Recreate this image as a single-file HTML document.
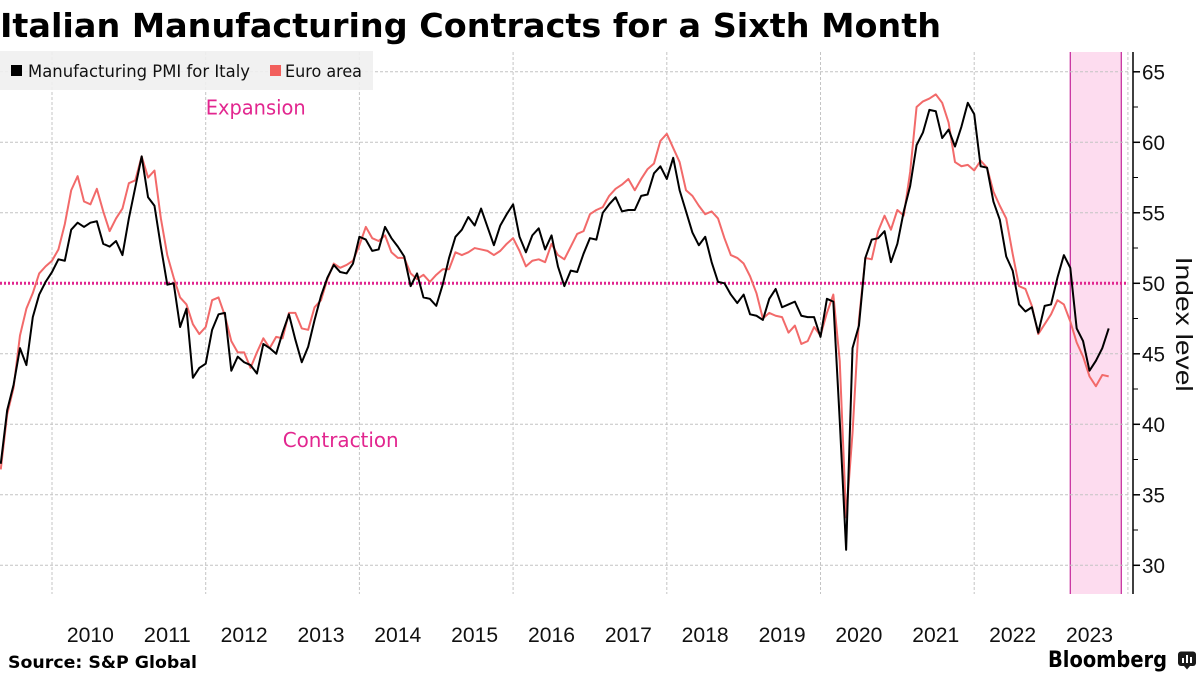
<!DOCTYPE html>
<html>
<head>
<meta charset="utf-8">
<style>
  html,body{margin:0;padding:0;background:#fff;}
  svg{display:block;}
</style>
</head>
<body>
<svg width="1200" height="675" viewBox="0 0 1200 675" xmlns="http://www.w3.org/2000/svg">
  <rect x="0" y="0" width="1200" height="675" fill="#ffffff"/>

  <!-- Title -->
  <text x="0" y="37" font-family="DejaVu Sans, Liberation Sans, sans-serif" font-weight="bold" font-size="33" textLength="941" lengthAdjust="spacingAndGlyphs" fill="#000">Italian Manufacturing Contracts for a Sixth Month</text>

  <!-- Shaded recent region -->
  <rect x="1070.3" y="52" width="51" height="542" fill="#fddcef"/>
  <line x1="1070.3" y1="52" x2="1070.3" y2="594" stroke="#c8329f" stroke-width="1.3"/>
  <line x1="1121.3" y1="52" x2="1121.3" y2="594" stroke="#c8329f" stroke-width="1.3"/>

  <!-- Horizontal gridlines -->
  <g stroke="#c4c4c4" stroke-width="1" stroke-dasharray="3 2">
    <line x1="0" y1="71.8" x2="1128" y2="71.8"/>
    <line x1="0" y1="142.3" x2="1128" y2="142.3"/>
    <line x1="0" y1="212.8" x2="1128" y2="212.8"/>
    <line x1="0" y1="353.8" x2="1128" y2="353.8"/>
    <line x1="0" y1="424.3" x2="1128" y2="424.3"/>
    <line x1="0" y1="494.8" x2="1128" y2="494.8"/>
    <line x1="0" y1="565.3" x2="1128" y2="565.3"/>
  </g>
  <!-- Vertical gridlines -->
  <g stroke="#c4c4c4" stroke-width="1" stroke-dasharray="3 2">
    <line x1="52" y1="52" x2="52" y2="594"/>
    <line x1="205.7" y1="52" x2="205.7" y2="594"/>
    <line x1="359.4" y1="52" x2="359.4" y2="594"/>
    <line x1="513.1" y1="52" x2="513.1" y2="594"/>
    <line x1="666.8" y1="52" x2="666.8" y2="594"/>
    <line x1="820.5" y1="52" x2="820.5" y2="594"/>
    <line x1="974.2" y1="52" x2="974.2" y2="594"/>
    <line x1="1127.9" y1="52" x2="1127.9" y2="594"/>
  </g>

  <!-- 50 line dotted -->
  <line x1="0" y1="283.3" x2="1128" y2="283.3" stroke="#e0268f" stroke-width="3" stroke-dasharray="2 2"/>

  <!-- Legend -->
  <rect x="0" y="51" width="373" height="39" fill="#efefef" fill-opacity="0.9"/>
  <rect x="11" y="65" width="11" height="11" fill="#000"/>
  <text x="28" y="77" font-family="DejaVu Sans, Liberation Sans, sans-serif" font-size="16.5" textLength="222" lengthAdjust="spacingAndGlyphs" fill="#111">Manufacturing PMI for Italy</text>
  <rect x="270" y="65" width="11" height="11" fill="#f25f5c"/>
  <text x="285" y="77" font-family="DejaVu Sans, Liberation Sans, sans-serif" font-size="16.5" textLength="77" lengthAdjust="spacingAndGlyphs" fill="#111">Euro area</text>

  <!-- Annotations -->
  <text x="205.7" y="114.3" font-family="DejaVu Sans, Liberation Sans, sans-serif" font-size="20" textLength="100" lengthAdjust="spacingAndGlyphs" fill="#e2268f">Expansion</text>
  <text x="282.7" y="447" font-family="DejaVu Sans, Liberation Sans, sans-serif" font-size="20" textLength="116" lengthAdjust="spacingAndGlyphs" fill="#e2268f">Contraction</text>

  <!-- Series: x = 0.77 + i*6.4042, y = 988.3 - 14.1*v -->
  <g transform="matrix(6.4042 0 0 -14.1 0.77 988.3)">
    <polyline fill="none" stroke="#f26a6a" stroke-width="2" stroke-linejoin="round" vector-effect="non-scaling-stroke" points="
0,36.8 1,40.7 2,42.6 3,46.3 4,48.2 5,49.3 6,50.7 7,51.2 8,51.6
9,52.4 10,54.2 11,56.6 12,57.6 13,55.8 14,55.6 15,56.7 16,55.1 17,53.7 18,54.6 19,55.3 20,57.1
21,57.3 22,59.0 23,57.5 24,58.0 25,54.6 26,52.0 27,50.4 28,49.0 29,48.5 30,47.1 31,46.4 32,46.9
33,48.8 34,49.0 35,47.7 36,45.9 37,45.1 38,45.1 39,44.0 40,45.1 41,46.1 42,45.4 43,46.2 44,46.1
45,47.9 46,47.9 47,46.8 48,46.7 49,48.3 50,48.8 51,50.3 52,51.4 53,51.1 54,51.3 55,51.6 56,52.7
57,54.0 58,53.2 59,53.0 60,53.4 61,52.2 62,51.8 63,51.8 64,50.7 65,50.3 66,50.6 67,50.1 68,50.6
69,51.0 70,51.0 71,52.2 72,52.0 73,52.2 74,52.5 75,52.4 76,52.3 77,52.0 78,52.3 79,52.8 80,53.2
81,52.3 82,51.2 83,51.6 84,51.7 85,51.5 86,52.8 87,52.0 88,51.7 89,52.6 90,53.5 91,53.7 92,54.9
93,55.2 94,55.4 95,56.2 96,56.7 97,57.0 98,57.4 99,56.6 100,57.4 101,58.1 102,58.5 103,60.1 104,60.6
105,59.6 106,58.6 107,56.6 108,56.2 109,55.5 110,54.9 111,55.1 112,54.6 113,53.2 114,52.0 115,51.8 116,51.4
117,50.5 118,49.3 119,47.5 120,47.9 121,47.7 122,47.6 123,46.5 124,47.0 125,45.7 126,45.9 127,46.9 128,46.3
129,47.9 130,49.2 131,44.5 132,33.4 133,39.4 134,47.4 135,51.8 136,51.7 137,53.7 138,54.8 139,53.8 140,55.2
141,54.8 142,57.9 143,62.5 144,62.9 145,63.1 146,63.4 147,62.8 148,61.4 149,58.6 150,58.3 151,58.4 152,58.0
153,58.7 154,58.2 155,56.5 156,55.5 157,54.6 158,52.1 159,49.8 160,49.6 161,48.4 162,46.4 163,47.1 164,47.8
165,48.8 166,48.5 167,47.3 168,45.8 169,44.8 170,43.4 171,42.7 172,43.5 173,43.4"/>
    <polyline fill="none" stroke="#000000" stroke-width="2" stroke-linejoin="round" vector-effect="non-scaling-stroke" points="
0,37.2 1,41.0 2,42.8 3,45.4 4,44.2 5,47.6 6,49.2 7,50.1 8,50.8
9,51.7 10,51.6 11,53.8 12,54.3 13,54.0 14,54.3 15,54.4 16,52.8 17,52.6 18,53.0 19,52.0 20,54.6
21,56.8 22,59.0 23,56.1 24,55.5 25,52.6 26,49.9 27,50.0 28,46.9 29,48.2 30,43.3 31,44.0 32,44.3
33,46.7 34,47.8 35,47.9 36,43.8 37,44.8 38,44.4 39,44.2 40,43.6 41,45.7 42,45.4 43,45.0 44,46.5
45,47.8 46,46.0 47,44.4 48,45.5 49,47.4 50,49.1 51,50.4 52,51.3 53,50.8 54,50.7 55,51.4 56,53.3
57,53.1 58,52.3 59,52.4 60,54.0 61,53.2 62,52.6 63,51.9 64,49.8 65,50.7 66,49.0 67,48.9 68,48.4
69,49.9 70,51.8 71,53.3 72,53.8 73,54.7 74,54.1 75,55.3 76,54.0 77,52.7 78,54.1 79,54.9 80,55.6
81,53.3 82,52.2 83,53.4 84,53.9 85,52.4 86,53.4 87,51.2 88,49.8 89,50.9 90,50.8 91,52.1 92,53.2
93,53.1 94,55.0 95,55.6 96,56.1 97,55.1 98,55.2 99,55.2 100,56.2 101,56.3 102,57.8 103,58.3 104,57.4
105,58.9 106,56.6 107,55.1 108,53.6 109,52.7 110,53.3 111,51.5 112,50.1 113,50.0 114,49.2 115,48.6 116,49.2
117,47.8 118,47.7 119,47.4 120,48.9 121,49.6 122,48.3 123,48.5 124,48.7 125,47.7 126,47.6 127,47.6 128,46.2
129,48.9 130,48.7 131,40.3 132,31.1 133,45.4 134,47.0 135,51.8 136,53.1 137,53.2 138,53.7 139,51.5 140,52.8
141,55.1 142,56.9 143,59.8 144,60.7 145,62.3 146,62.2 147,60.3 148,60.9 149,59.7 150,61.1 151,62.8 152,62.0
153,58.3 154,58.2 155,55.8 156,54.5 157,51.9 158,50.9 159,48.5 160,48.0 161,48.3 162,46.5 163,48.4 164,48.5
165,50.4 166,52.0 167,51.1 168,46.8 169,45.9 170,43.8 171,44.5 172,45.4 173,46.8"/>
  </g>

  <!-- Y axis -->
  <line x1="1133" y1="52" x2="1133" y2="594" stroke="#000" stroke-width="1.5"/>
  <g stroke="#000" stroke-width="1.5">
    <line x1="1133" y1="71.8" x2="1140" y2="71.8"/>
    <line x1="1133" y1="142.3" x2="1140" y2="142.3"/>
    <line x1="1133" y1="212.8" x2="1140" y2="212.8"/>
    <line x1="1133" y1="283.3" x2="1140" y2="283.3"/>
    <line x1="1133" y1="353.8" x2="1140" y2="353.8"/>
    <line x1="1133" y1="424.3" x2="1140" y2="424.3"/>
    <line x1="1133" y1="494.8" x2="1140" y2="494.8"/>
    <line x1="1133" y1="565.3" x2="1140" y2="565.3"/>
  </g>
  <g stroke="#000" stroke-width="1">
    <line x1="1133" y1="107" x2="1138" y2="107"/>
    <line x1="1133" y1="177.5" x2="1138" y2="177.5"/>
    <line x1="1133" y1="248" x2="1138" y2="248"/>
    <line x1="1133" y1="318.5" x2="1138" y2="318.5"/>
    <line x1="1133" y1="389" x2="1138" y2="389"/>
    <line x1="1133" y1="459.5" x2="1138" y2="459.5"/>
    <line x1="1133" y1="530" x2="1138" y2="530"/>
  </g>
  <g font-family="Liberation Sans, DejaVu Sans, sans-serif" font-size="21" fill="#111">
    <text x="1142" y="79.3" textLength="23" lengthAdjust="spacingAndGlyphs">65</text>
    <text x="1142" y="149.8" textLength="23" lengthAdjust="spacingAndGlyphs">60</text>
    <text x="1142" y="220.3" textLength="23" lengthAdjust="spacingAndGlyphs">55</text>
    <text x="1142" y="290.8" textLength="23" lengthAdjust="spacingAndGlyphs">50</text>
    <text x="1142" y="361.3" textLength="23" lengthAdjust="spacingAndGlyphs">45</text>
    <text x="1142" y="431.8" textLength="23" lengthAdjust="spacingAndGlyphs">40</text>
    <text x="1142" y="502.3" textLength="23" lengthAdjust="spacingAndGlyphs">35</text>
    <text x="1142" y="572.8" textLength="23" lengthAdjust="spacingAndGlyphs">30</text>
  </g>
  <text transform="translate(1176,256.7) rotate(90)" font-family="Liberation Sans, DejaVu Sans, sans-serif" font-size="23" textLength="135" lengthAdjust="spacingAndGlyphs" fill="#111">Index level</text>

  <!-- X labels -->
  <g font-family="Liberation Sans, DejaVu Sans, sans-serif" font-size="21" fill="#111" text-anchor="middle">
    <text x="90.4" y="642" textLength="47" lengthAdjust="spacingAndGlyphs">2010</text>
    <text x="167.3" y="642" textLength="47" lengthAdjust="spacingAndGlyphs">2011</text>
    <text x="244.1" y="642" textLength="47" lengthAdjust="spacingAndGlyphs">2012</text>
    <text x="321.0" y="642" textLength="47" lengthAdjust="spacingAndGlyphs">2013</text>
    <text x="397.8" y="642" textLength="47" lengthAdjust="spacingAndGlyphs">2014</text>
    <text x="474.7" y="642" textLength="47" lengthAdjust="spacingAndGlyphs">2015</text>
    <text x="551.5" y="642" textLength="47" lengthAdjust="spacingAndGlyphs">2016</text>
    <text x="628.4" y="642" textLength="47" lengthAdjust="spacingAndGlyphs">2017</text>
    <text x="705.2" y="642" textLength="47" lengthAdjust="spacingAndGlyphs">2018</text>
    <text x="782.1" y="642" textLength="47" lengthAdjust="spacingAndGlyphs">2019</text>
    <text x="858.9" y="642" textLength="47" lengthAdjust="spacingAndGlyphs">2020</text>
    <text x="935.8" y="642" textLength="47" lengthAdjust="spacingAndGlyphs">2021</text>
    <text x="1012.6" y="642" textLength="47" lengthAdjust="spacingAndGlyphs">2022</text>
    <text x="1089.5" y="642" textLength="47" lengthAdjust="spacingAndGlyphs">2023</text>
  </g>

  <!-- Footer -->
  <text x="8" y="668" font-family="DejaVu Sans, Liberation Sans, sans-serif" font-weight="bold" font-size="17" textLength="189" lengthAdjust="spacingAndGlyphs" fill="#000">Source: S&amp;P Global</text>
  <text x="1048" y="667" font-family="DejaVu Sans, Liberation Sans, sans-serif" font-weight="bold" font-size="22" textLength="119" lengthAdjust="spacingAndGlyphs" fill="#000">Bloomberg</text>
  <g>
    <rect x="1178" y="651.5" width="18" height="14.5" rx="3" fill="#1a1a1a"/>
    <polygon points="1184,666 1190,666 1187,669.5" fill="#1a1a1a"/>
    <rect x="1182" y="658" width="2" height="5" fill="#fff"/>
    <rect x="1186" y="655" width="2" height="8" fill="#fff"/>
    <rect x="1190" y="657" width="2" height="6" fill="#fff"/>
  </g>
</svg>
</body>
</html>
